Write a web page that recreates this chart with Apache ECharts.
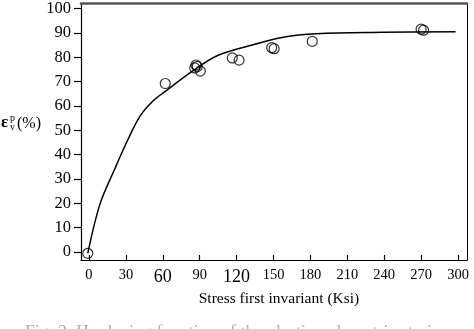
<!DOCTYPE html>
<html>
<head>
<meta charset="utf-8">
<script src="https://cdn.jsdelivr.net/npm/echarts@6/dist/echarts.min.js"></script>
<style>
html,body{margin:0;padding:0;background:#fff;}
#c{width:474px;height:329px;}
</style>
</head>
<body>
<div id="c"></div>
<script>
// Data
const xTicks = [0, 30, 60, 90, 120, 150, 180, 210, 240, 270, 300];
const bigXLabels = [60, 120];
const yTicks = [0, 10, 20, 30, 40, 50, 60, 70, 80, 90, 100];

const measX = [-1, 62, 86, 87, 88, 90.5, 116.5, 122, 148.5, 150.5, 181.5, 270, 272];
const measY = [-0.5, 69.2, 75.6, 76.8, 76.2, 74.3, 79.7, 78.8, 83.9, 83.5, 86.5, 91.5, 91.1];

const fitX = [-1, 9, 21, 31, 41.5, 52, 62, 85, 105, 131, 158, 185, 239, 298];
const fitY = [-0.5, 19.8, 34.2, 45.5, 55.8, 62, 66, 74.6, 80.8, 84.8, 88.2, 89.6, 90.2, 90.5];

const xName = 'Stress first invariant (Ksi)';
const caption = 'Fig. 3  Hardening function of the plastic volumetric strain';

const font = '"Liberation Serif", "Times New Roman", serif';
const chart = echarts.init(document.getElementById('c'), null, {renderer: 'canvas'});

const XMIN = -6.5, XMAX = 307.3, YMIN = -3.25, YMAX = 102;

chart.setOption({
  animation: false,
  backgroundColor: '#fff',
  grid: {left: 81, right: 7, top: 1, bottom: 69, containLabel: false},
  xAxis: [{
    type: 'value', min: XMIN, max: XMAX, position: 'bottom',
    axisLine: {show: true, onZero: false, lineStyle: {color: '#000', width: 1.2}},
    axisTick: {show: true, inside: true, length: 5, customValues: xTicks, lineStyle: {color: '#000', width: 1.2}},
    axisLabel: {
      customValues: xTicks, margin: 8, color: '#000', fontFamily: font, fontSize: 14.5,
      verticalAlign: 'top',
      formatter: v => bigXLabels.includes(v) ? '{b|' + v + '}' : String(v),
      rich: {b: {fontSize: 18, fontFamily: font, color: '#000'}}
    },
    splitLine: {show: false},
    name: xName, nameLocation: 'middle', nameGap: 31,
    nameTextStyle: {fontFamily: font, fontSize: 15.5, color: '#000', padding: [0, 0, 0, 10]}
  }, {
    type: 'value', min: XMIN, max: XMAX, position: 'top',
    axisLine: {show: true, onZero: false, lineStyle: {color: '#555', width: 2.5}},
    axisTick: {show: false}, axisLabel: {show: false}, splitLine: {show: false}
  }],
  yAxis: [{
    type: 'value', min: YMIN, max: YMAX, position: 'left',
    axisLine: {show: true, onZero: false, lineStyle: {color: '#000', width: 1.2}},
    axisTick: {show: true, inside: false, length: 7, customValues: yTicks, lineStyle: {color: '#000', width: 1.2}},
    axisLabel: {customValues: yTicks, margin: 10, color: '#000', fontFamily: font, fontSize: 16.5},
    splitLine: {show: false}
  }, {
    type: 'value', min: YMIN, max: YMAX, position: 'right',
    axisLine: {show: true, onZero: false, lineStyle: {color: '#000', width: 1}},
    axisTick: {show: false}, axisLabel: {show: false}, splitLine: {show: false}
  }],
  graphic: [
    {type: 'text', left: 1, top: 114, style: {text: 'ε', font: 'bold 17px ' + font, fill: '#000'}},
    {type: 'text', left: 10, top: 113, style: {text: 'p', font: '10px ' + font, fill: '#000'}},
    {type: 'text', left: 10, top: 122, style: {text: 'v', font: '10px ' + font, fill: '#000'}},
    {type: 'text', left: 17, top: 116, style: {text: '(%)', font: '16px ' + font, fill: '#000'}},
    {type: 'text', left: 25, top: 324, style: {text: caption, font: '18px ' + font, fill: '#b0b0b0'}}
  ],
  series: [{
    type: 'line', xAxisIndex: 0, yAxisIndex: 0,
    data: fitX.map((x, i) => [x, fitY[i]]),
    smooth: 0.35, showSymbol: false, symbol: 'none',
    lineStyle: {color: '#000', width: 1.5}, clip: false, z: 2
  }, {
    type: 'scatter', xAxisIndex: 0, yAxisIndex: 0,
    data: measX.map((x, i) => [x, measY[i]]),
    symbol: 'circle', symbolSize: 10, clip: false,
    itemStyle: {color: 'rgba(0,0,0,0)', borderColor: '#000', borderWidth: 1.2}, z: 3
  }]
});
</script>
</body>
</html>
